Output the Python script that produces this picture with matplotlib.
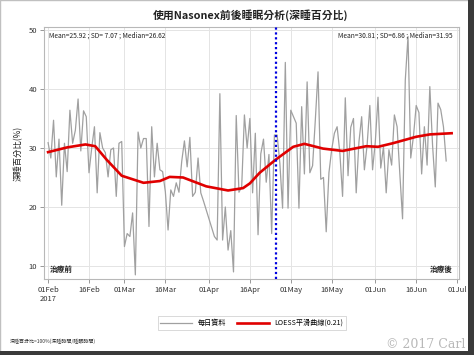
import matplotlib
matplotlib.use("Agg")
import matplotlib.pyplot as plt
import matplotlib.dates as mdates
import numpy as np
import pandas as pd
from matplotlib.patches import Rectangle

plt.rcParams['font.family'] = ['Noto Sans CJK TC', 'DejaVu Sans']

# ---------------- data ----------------
start_date = "2017-02-01"
before_values = [30.9, 28.3, 34.7, 25.1, 31.5, 20.3, 30.8, 26.0, 36.4, 30.8,
                 33.0, 38.3, 29.5, 36.3, 35.3, 25.8, 30.0, 33.6, 22.4, 32.6,
                 30.0, 29.2, 25.1, 29.7, 30.0, 21.8, 30.8, 31.1, 13.3, 15.5,
                 15.0, 19.0, 8.5, 32.7, 30.0, 31.6, 31.6, 16.7, 33.6, 25.1,
                 30.8, 26.3, 26.0, 22.6, 16.1, 22.9, 21.8, 24.1, 22.5, 27.7,
                 31.2, 26.8, 31.8, 21.8, 22.5, 28.3, 22.4, 21.0, 19.5, 18.0,
                 16.5, 15.0, 14.4, 39.2, 14.4, 20.0, 12.7, 16.0, 9.0, 35.5,
                 22.5, 23.4, 35.6, 30.0, 35.0, 22.4, 32.5, 15.3, 29.0, 31.5,
                 24.2, 28.9, 15.5, 32.2]
after_values = [32.2, 27.4, 19.8, 44.5, 19.8, 36.4, 35.3, 34.2, 19.8, 37.0,
                25.6, 41.2, 25.8, 27.0, 34.7, 42.9, 24.7, 25.0, 15.8, 25.8,
                29.7, 32.5, 33.6, 29.2, 21.8, 38.5, 25.3, 33.5, 35.0, 22.4,
                31.0, 35.3, 26.3, 30.5, 37.2, 26.3, 31.0, 38.6, 26.6, 30.2,
                22.4, 29.7, 27.1, 35.6, 33.6, 25.6, 18.0, 41.5, 48.9, 28.3,
                32.0, 37.2, 36.0, 25.6, 33.6, 27.1, 40.4, 30.5, 23.4, 37.6,
                36.5, 33.6, 27.8]
treatment_line = "2017-04-25 12:00"

# LOESS curve (day offset from Feb 1, value)
loess_days = [0, 7, 13.7, 17.3, 21.5, 27, 35, 41, 44.6, 49.5, 58, 66, 71.5, 74,
              77.6, 83.4, 89.9, 94, 100.8, 108, 116.7, 121, 126.4, 135, 140, 148]
loess_vals = [29.3, 30.1, 30.6, 30.3, 28.0, 25.3, 24.1, 24.4, 25.1, 25.0, 23.5,
              22.8, 23.2, 24.0, 25.8, 28.0, 30.2, 30.7, 29.9, 29.5, 30.3, 30.2,
              30.8, 31.9, 32.3, 32.5]

stats_before = "Mean=25.92 ; SD= 7.07 ; Median=26.62"
stats_after = "Mean=30.81 ; SD=6.86 ; Median=31.95"
tick_dates = ["2017-02-01", "2017-02-16", "2017-03-01", "2017-03-16", "2017-04-01",
              "2017-04-16", "2017-05-01", "2017-05-16", "2017-06-01", "2017-06-16",
              "2017-07-01"]
tick_labels = ["01Feb\n2017", "16Feb", "01Mar", "16Mar", "01Apr", "16Apr",
               "01May", "16May", "01Jun", "16Jun", "01Jul"]
y_ticks = [10, 20, 30, 40, 50]

# ---------------- plot ----------------
values = before_values + after_values
dates = pd.date_range(start_date, periods=len(values), freq="D")
loess_dates = pd.Timestamp(start_date) + pd.to_timedelta(loess_days, unit="D")

fig = plt.figure(figsize=(4.74, 3.55), dpi=100)
ax = fig.add_axes([44/474, 1-279/355, 415/474, 252/355])

ax.plot(dates, values, color="#a0a0a0", lw=0.9, zorder=2)
ax.plot(loess_dates, loess_vals, color="#e00000", lw=1.9, zorder=3)
ax.axvline(pd.Timestamp(treatment_line), color="#0000e0", lw=1.6,
           linestyle=(0, (1, 1.2)), zorder=4)

ax.set_xlim(pd.Timestamp("2017-02-01") - pd.Timedelta(days=1.5),
            pd.Timestamp("2017-07-01") + pd.Timedelta(days=0.7))
ax.set_ylim(7.8, 50.5)
ax.set_xticks(pd.to_datetime(tick_dates))
ax.set_xticklabels(tick_labels)
ax.set_yticks(y_ticks)
ax.grid(True, color="#e4e4e4", lw=0.7, zorder=0)
ax.set_axisbelow(True)
for s in ax.spines.values():
    s.set_color("#b8b8b8")
    s.set_linewidth(0.8)
ax.tick_params(axis="both", labelsize=5.5, colors="#333333", length=3,
               width=0.6, color="#888888", pad=2)
for lab in ax.get_xticklabels():
    lab.set_horizontalalignment("center")

ax.set_ylabel("深睡百分比(%)", fontsize=6, color="#222222", labelpad=4)

fig.text(251/474, 1-15/355, "使用Nasonex前後睡眠分析(深睡百分比)", ha="center",
         va="center", fontsize=7.8, fontweight="bold", color="#222222")

ax.text(0.013, 0.965, stats_before, transform=ax.transAxes, fontsize=4.8,
        ha="left", va="center", color="#222222")
ax.text(0.985, 0.965, stats_after, transform=ax.transAxes, fontsize=4.8,
        ha="right", va="center", color="#222222")
ax.text(0.013, 0.036, "治療前", transform=ax.transAxes, fontsize=5.5,
        ha="left", va="center", color="#222222", fontweight="bold")
ax.text(0.985, 0.036, "治療後", transform=ax.transAxes, fontsize=5.5,
        ha="right", va="center", color="#222222", fontweight="bold")

h1, = ax.plot([], [], color="#a0a0a0", lw=0.9)
h2, = ax.plot([], [], color="#e00000", lw=1.9)
leg = fig.legend([h1, h2], ["每日資料", "LOESS平滑曲線(0.21)"], ncol=2,
                 loc="center", bbox_to_anchor=(252/474, 1-323/355),
                 fontsize=5.1, frameon=True, fancybox=False, edgecolor="#c8c8c8",
                 handlelength=4.5, columnspacing=1.5, handletextpad=0.8,
                 borderpad=0.4)
leg.get_frame().set_linewidth(0.6)

fig.text(10/474, 1-341/355, "深睡百分比=100%(深睡時間/睡眠時間)", fontsize=3.6,
         ha="left", va="center", color="#333333")
fig.text(465/474, 1-344/355, "© 2017 Carl", fontsize=9, ha="right", va="center",
         color="#b8b8b8", family=["DejaVu Serif"])

# frame & shadow
fig.patches.append(Rectangle((0, 0), 1, 1, transform=fig.transFigure,
                             fill=False, edgecolor="#c0c0c0", lw=1))
fig.patches.append(Rectangle((468/474, 0), 6/474, 1, transform=fig.transFigure,
                             color="#3a3a3a", lw=0))
fig.patches.append(Rectangle((0, 0), 1, 4/355, transform=fig.transFigure,
                             color="#3a3a3a", lw=0))

fig.savefig("out.png", dpi=100)
